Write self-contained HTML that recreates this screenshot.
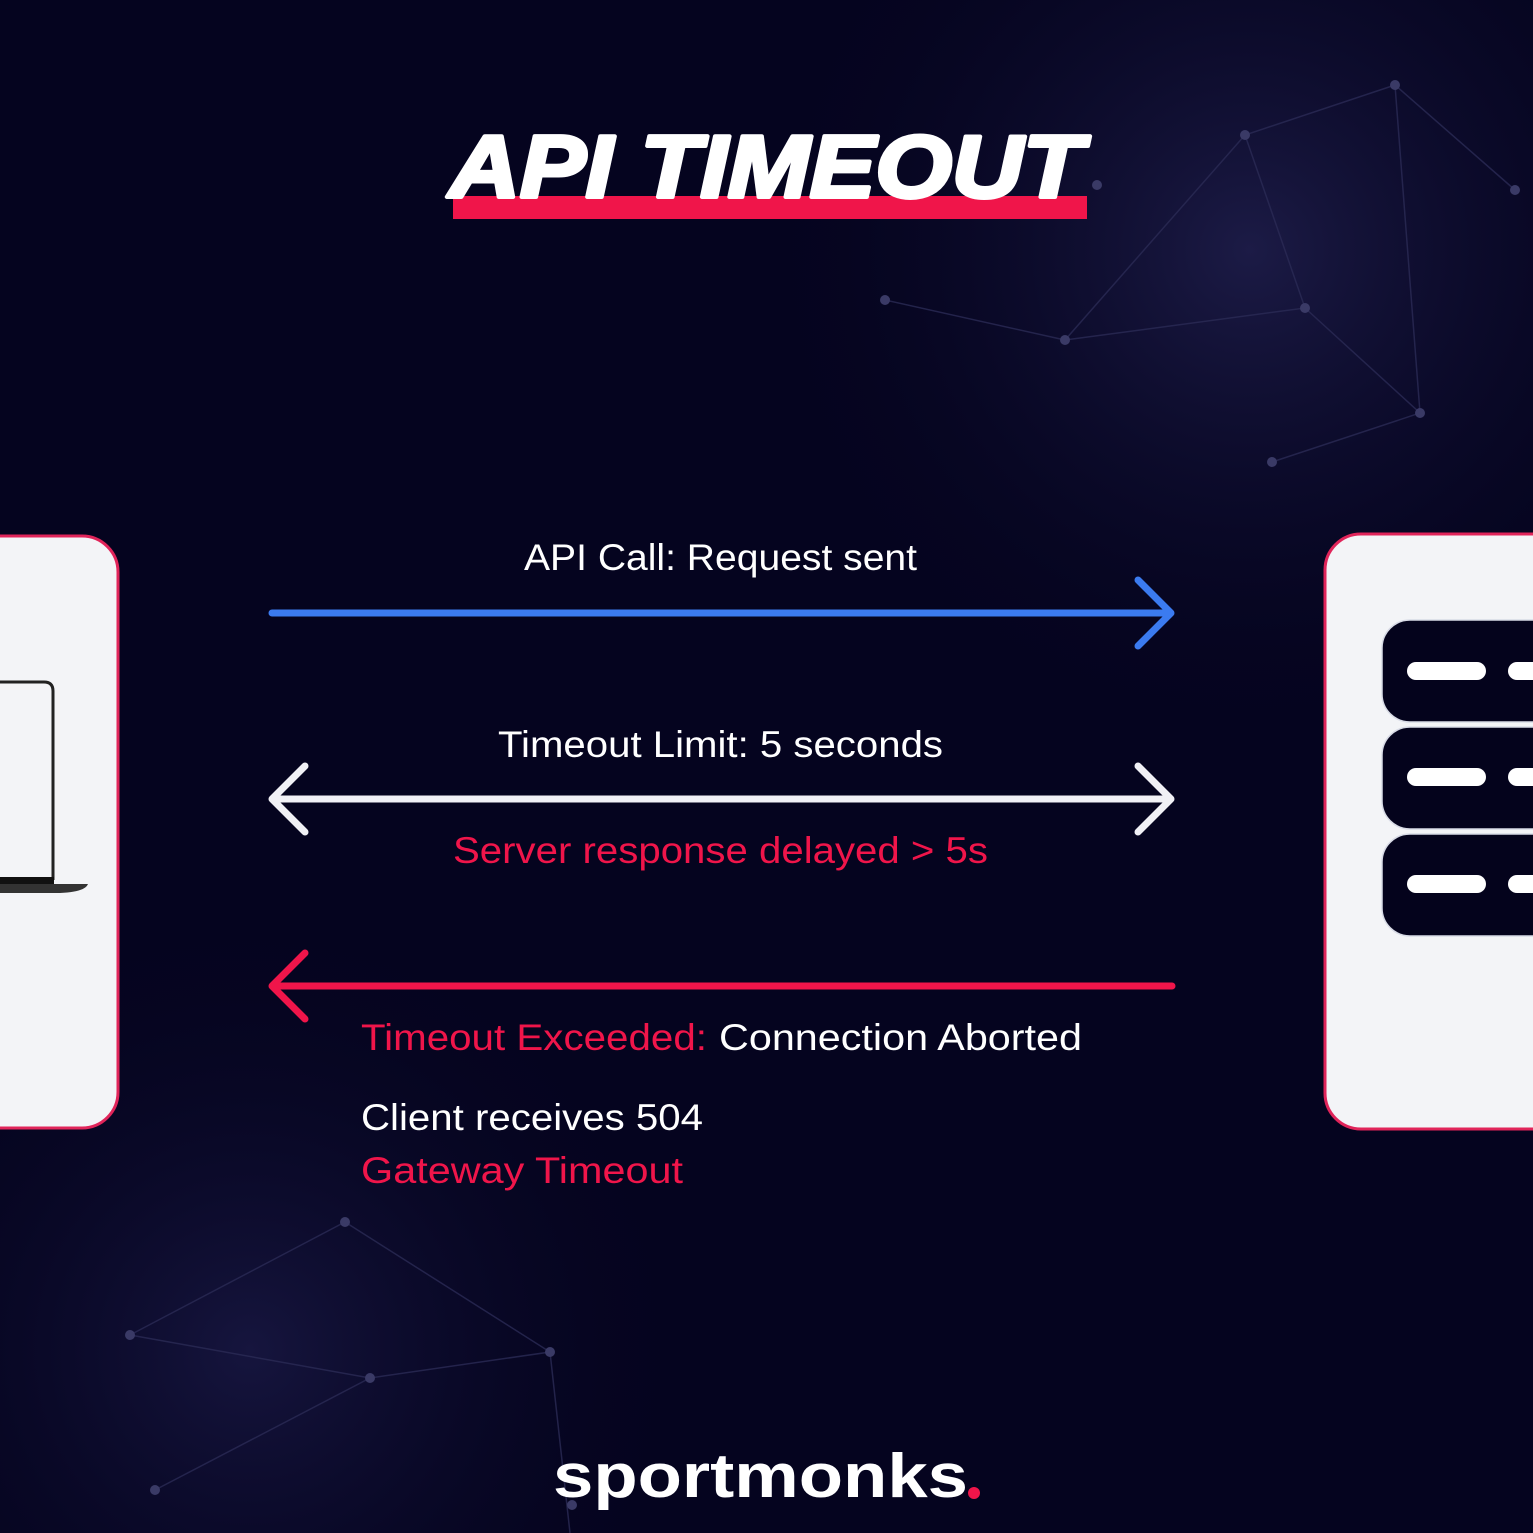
<!DOCTYPE html>
<html><head><meta charset="utf-8"><style>
html,body{margin:0;padding:0;background:#05041f;}
svg{display:block;}
</style></head><body>
<svg width="1533" height="1533" viewBox="0 0 1533 1533" xmlns="http://www.w3.org/2000/svg">
<defs>
<radialGradient id="g1" cx="1250" cy="250" r="500" gradientUnits="userSpaceOnUse">
<stop offset="0" stop-color="#1c1b46"/><stop offset="1" stop-color="#05041f" stop-opacity="0"/></radialGradient>
<radialGradient id="g2" cx="250" cy="1350" r="450" gradientUnits="userSpaceOnUse">
<stop offset="0" stop-color="#16153e"/><stop offset="1" stop-color="#05041f" stop-opacity="0"/></radialGradient>
</defs>
<rect width="1533" height="1533" fill="#05041f"/>
<rect width="1533" height="1533" fill="url(#g1)"/>
<rect width="1533" height="1533" fill="url(#g2)"/>
<g stroke="#2a2a55" stroke-width="1.5" fill="none" opacity="0.8">
<path d="M885 300 L1065 340 L1245 135 L1395 85 L1515 190 M1065 340 L1305 308 L1420 413 L1272 462 M1245 135 L1305 308 M1395 85 L1420 413"/>
<path d="M130 1335 L345 1222 L550 1352 L370 1378 L130 1335 M370 1378 L155 1490 M550 1352 L570 1533"/>
</g>
<g fill="#3a3a66">
<circle cx="885" cy="300" r="5"/><circle cx="1065" cy="340" r="5"/><circle cx="1245" cy="135" r="5"/><circle cx="1395" cy="85" r="5"/><circle cx="1305" cy="308" r="5"/><circle cx="1420" cy="413" r="5"/><circle cx="1272" cy="462" r="5"/><circle cx="1515" cy="190" r="5"/><circle cx="1097" cy="185" r="5"/>
<circle cx="130" cy="1335" r="5"/><circle cx="345" cy="1222" r="5"/><circle cx="550" cy="1352" r="5"/><circle cx="370" cy="1378" r="5"/><circle cx="155" cy="1490" r="5"/><circle cx="572" cy="1505" r="5"/>
</g>
<!-- Title -->
<rect x="453" y="196" width="634" height="23" fill="#f0154a"/>
<text x="766" y="197" text-anchor="middle" font-family="Liberation Sans, sans-serif" font-weight="bold" font-style="italic" font-size="88" fill="#fff" stroke="#fff" stroke-width="4" stroke-linejoin="round" textLength="634" lengthAdjust="spacingAndGlyphs">API TIMEOUT</text>
<!-- Left card -->
<rect x="-60" y="536" width="178" height="592" rx="36" fill="#f3f4f7" stroke="#e0245a" stroke-width="3"/>
<path d="M-10 682 L44 682 Q53 682 53 691 L53 880" fill="none" stroke="#222" stroke-width="3"/>
<rect x="-10" y="877" width="64" height="7" fill="#111"/>
<path d="M-10 884 L88 884 Q85 892 60 893 L-10 893 Z" fill="#333"/>
<!-- Right card -->
<rect x="1325" y="534" width="260" height="595" rx="36" fill="#f3f4f7" stroke="#e0245a" stroke-width="3"/>
<g fill="#04031c" stroke="#d8dbe6" stroke-width="1.5">
<rect x="1382" y="620" width="200" height="102" rx="28"/>
<rect x="1382" y="727" width="200" height="102" rx="28"/>
<rect x="1382" y="834" width="200" height="102" rx="28"/>
</g>
<g fill="#fff">
<rect x="1407" y="662" width="79" height="18" rx="9"/><rect x="1508" y="662" width="60" height="18" rx="9"/>
<rect x="1407" y="768" width="79" height="18" rx="9"/><rect x="1508" y="768" width="60" height="18" rx="9"/>
<rect x="1407" y="875" width="79" height="18" rx="9"/><rect x="1508" y="875" width="60" height="18" rx="9"/>
</g>
<!-- Arrows -->
<g fill="none" stroke-width="7" stroke-linecap="round" stroke-linejoin="round">
<path d="M272 613 L1170 613 M1138 580 L1171 613 L1138 646" stroke="#3b7bf0"/>
<path d="M272 799 L1170 799 M1138 766 L1171 799 L1138 832 M305 766 L272 799 L305 832" stroke="#f1f1f6"/>
<path d="M272 986 L1172 986 M305 953 L272 986 L305 1019" stroke="#f0154a"/>
</g>
<g font-family="Liberation Sans, sans-serif" font-size="37">
<text x="524" y="570" fill="#fff" textLength="393" lengthAdjust="spacingAndGlyphs">API Call: Request sent</text>
<text x="498" y="757" fill="#fff" textLength="445" lengthAdjust="spacingAndGlyphs">Timeout Limit: 5 seconds</text>
<text x="453" y="863" fill="#f0154a" textLength="535" lengthAdjust="spacingAndGlyphs">Server response delayed &gt; 5s</text>
<text x="361" y="1050" fill="#f0154a" textLength="346" lengthAdjust="spacingAndGlyphs">Timeout Exceeded:</text>
<text x="719" y="1050" fill="#fff" textLength="363" lengthAdjust="spacingAndGlyphs">Connection Aborted</text>
<text x="361" y="1130" fill="#fff" textLength="342" lengthAdjust="spacingAndGlyphs">Client receives 504</text>
<text x="361" y="1183" fill="#f0154a" textLength="322" lengthAdjust="spacingAndGlyphs">Gateway Timeout</text>
</g>
<!-- Logo -->
<text x="553" y="1497" font-family="Liberation Sans, sans-serif" font-weight="bold" font-size="62" fill="#fff" textLength="415" lengthAdjust="spacingAndGlyphs">sportmonks</text>
<circle cx="974" cy="1493" r="6" fill="#f0154a"/>
</svg>
</body></html>
